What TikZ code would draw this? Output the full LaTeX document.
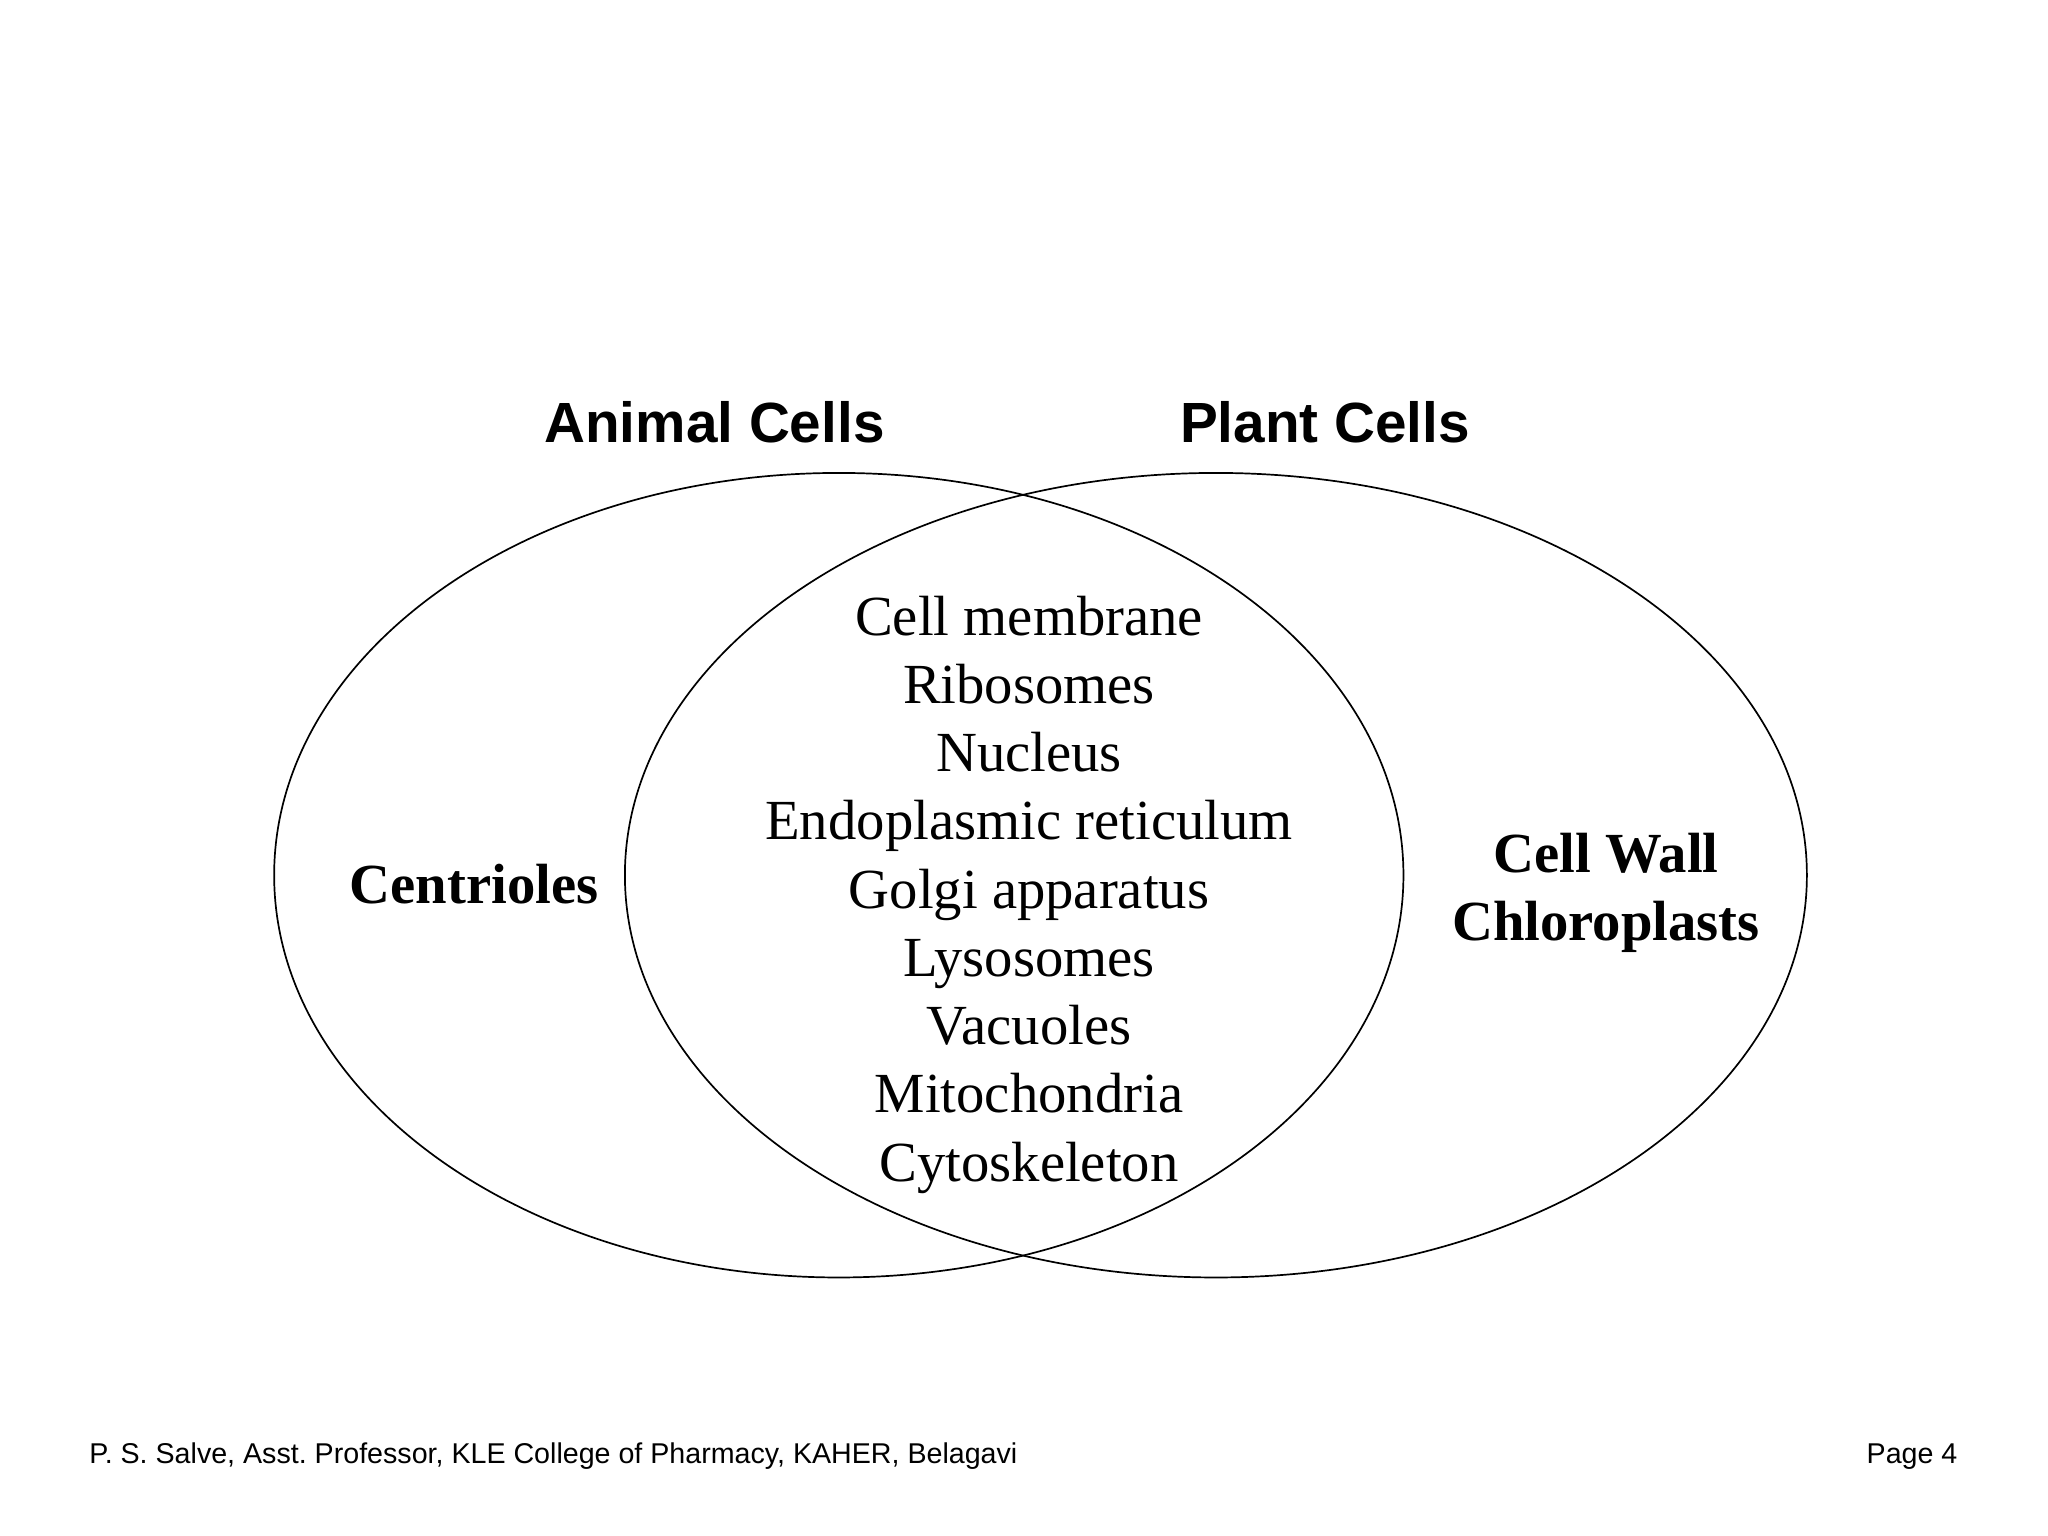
\documentclass[tikz,border=0pt]{standalone}
\usepackage{fontspec}
\setmainfont{Liberation Serif}
\setsansfont{Liberation Sans}
\usetikzlibrary{shapes.geometric}
\frenchspacing
\tikzset{
  cellset/.style={ellipse, draw=black, line width=0.6pt, inner sep=0pt, outer sep=0pt},
  heading/.style={font=\sffamily\bfseries\fontsize{20}{24}\selectfont, anchor=base, inner sep=0pt},
  organelle/.style={font=\rmfamily\fontsize{20}{24}\selectfont, anchor=base, inner sep=0pt},
  unique/.style={font=\rmfamily\bfseries\fontsize{20}{24}\selectfont, anchor=base, inner sep=0pt},
  footer/.style={font=\sffamily\fontsize{10.1}{12}\selectfont, inner sep=0pt}
}
\begin{document}
\begin{tikzpicture}[x=0.0048828125in, y=-0.0048828125in]
\useasboundingbox[fill=white] (0,0) rectangle (2048,1536);
% ellipses
\node[cellset, minimum width=398.5pt, minimum height=283.9pt] (animal) at (838.8,875.2) {};
\node[cellset, minimum width=417.1pt, minimum height=283.9pt] (plant) at (1215.9,875.2) {};
% headings
\node[heading] (animalT) at (714.5,442) {Animal Cells};
\node[heading] (plantT) at (1325,442) {Plant Cells};
% shared organelles
\foreach \t [count=\i from 0] in {Cell membrane, Ribosomes, Nucleus, Endoplasmic reticulum, Golgi apparatus, Lysosomes, Vacuoles, Mitochondria, Cytoskeleton}
  \node[organelle] (shared\i) at (1029,635+68.27*\i) {\t};
% unique
\node[unique] (centrioles) at (474,903) {Centrioles};
\node[unique] (cellwall) at (1606,872) {Cell Wall};
\node[unique] (chloro) at (1606,940) {Chloroplasts};
% footer
\node[footer, anchor=base west] (author) at (88.8,1463) {P. S. Salve, Asst. Professor, KLE College of Pharmacy, KAHER, Belagavi};
\node[footer, anchor=base east] (page) at (1958,1463) {Page 4};
\end{tikzpicture}
\end{document}
